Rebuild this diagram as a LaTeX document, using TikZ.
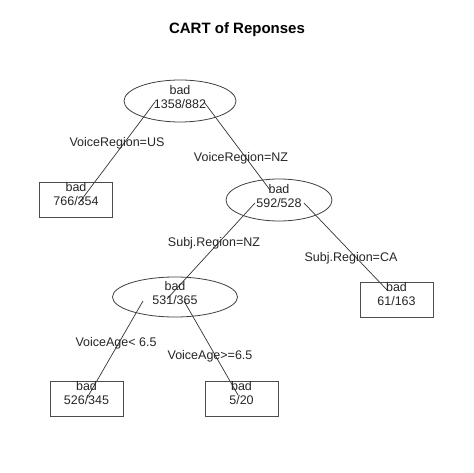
\documentclass[tikz,border=0pt]{standalone}
\usepackage{fontspec}
\setmainfont{Liberation Sans}
\usetikzlibrary{shapes.geometric}
\newcommand{\twoline}[3]{\raisebox{#3}[\height][\depth]{\begin{tabular}{@{}c@{}}#1\\#2\end{tabular}}}
\tikzset{
  lbl/.style={font=\fontsize{12.5}{14}\selectfont, text=black!85, inner sep=0pt},
  splitnode/.style={ellipse, draw=black!75, line width=0.8pt, font=\fontsize{12.5}{14}\selectfont, text=black!85, inner sep=0pt},
  leafnode/.style={rectangle, draw=black!70, line width=0.8pt, minimum width=73pt, minimum height=35pt, font=\fontsize{12.5}{14}\selectfont, text=black!85, inner sep=0pt},
  edge/.style={draw=black!80, line width=0.7pt}
}
\begin{document}
\begin{tikzpicture}[x=1pt,y=-1pt]
\useasboundingbox (0,0) rectangle (474,473);
\fill[white] (0,0) rectangle (474,473);
\node[font=\fontsize{15}{17}\selectfont\bfseries, inner sep=0pt] (title) at (237,30) {CART of Reponses};

% edges first (under text)
\coordinate (r1) at (155,102); \coordinate (a1) at (79,203);
\coordinate (r2) at (204,102); \coordinate (b1) at (270,190);
\coordinate (b2) at (255,203); \coordinate (c1) at (167,299);
\coordinate (b3) at (304,203); \coordinate (d1) at (388,291);
\coordinate (c2) at (143,301); \coordinate (e1) at (87,398);
\coordinate (c3) at (184,301); \coordinate (f1) at (238,395);
\draw[edge] (r1) -- (a1);
\draw[edge] (r2) -- (b1);
\draw[edge] (b2) -- (c1);
\draw[edge] (b3) -- (d1);
\draw[edge] (c2) -- (e1);
\draw[edge] (c3) -- (f1);

\node[splitnode, minimum width=112pt, minimum height=42pt] (root) at (180,101) {\twoline{bad}{1358/882}{2pt}};
\node[splitnode, minimum width=106pt, minimum height=42pt] (n2) at (279,200) {\twoline{bad}{592/528}{2pt}};
\node[splitnode, minimum width=125pt, minimum height=40pt] (n3) at (175,297) {\twoline{bad}{531/365}{2pt}};

\node[leafnode] (leafA) at (76,200) {\twoline{bad}{766/354}{4pt}};
\node[leafnode] (leafB) at (396.5,300) {\twoline{bad}{61/163}{4pt}};
\node[leafnode] (leafC) at (86.5,399) {\twoline{bad}{526/345}{4pt}};
\node[leafnode] (leafD) at (241.5,399) {\twoline{bad}{5/20}{4pt}};

\node[lbl] (l1) at (117,143) {VoiceRegion=US};
\node[lbl] (l2) at (241,158) {VoiceRegion=NZ};
\node[lbl] (l3) at (214,243) {Subj.Region=NZ};
\node[lbl] (l4) at (351,258) {Subj.Region=CA};
\node[lbl] (l5) at (116,343) {VoiceAge< 6.5};
\node[lbl] (l6) at (210,356) {VoiceAge>=6.5};
\end{tikzpicture}
\end{document}
